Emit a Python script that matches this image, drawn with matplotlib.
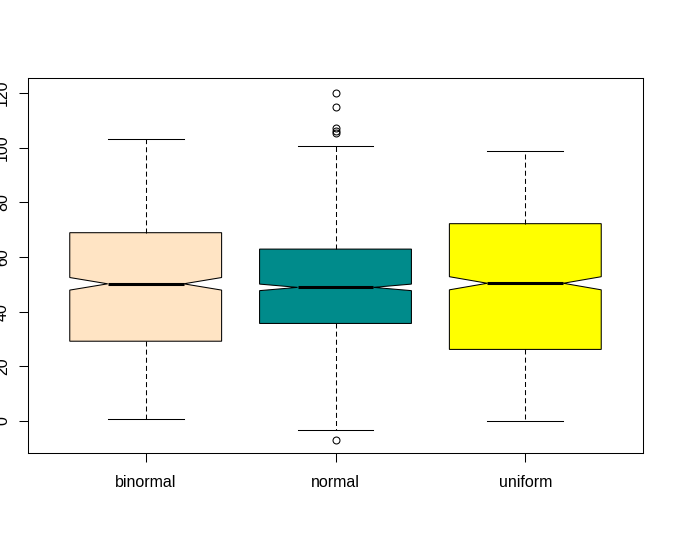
import numpy as np
import matplotlib
matplotlib.use('Agg')
import matplotlib.pyplot as plt

plt.rcParams['font.family'] = ['Liberation Sans', 'DejaVu Sans']

# values
categories = ['binormal', 'normal', 'uniform']
whislo = [0.6, -3.3, -0.1]
q1 = [29.2, 35.7, 26.2]
med = [50.2, 48.9, 50.4]
q3 = [68.9, 62.9, 72.2]
whishi = [103.1, 100.5, 98.7]
notch_lo = [47.9, 47.7, 48.0]
notch_hi = [52.5, 50.1, 52.8]
fliers = [[], [120.1, 115.0, 107.3, 106.2, 105.2, -7.1], []]
colors = ['bisque', 'darkcyan', 'yellow']
yticks = [0, 20, 40, 60, 80, 100, 120]

stats = []
for i, name in enumerate(categories):
    stats.append(dict(label=name, whislo=whislo[i], q1=q1[i], med=med[i],
                      q3=q3[i], whishi=whishi[i], cilo=notch_lo[i],
                      cihi=notch_hi[i], fliers=fliers[i]))

fig = plt.figure(figsize=(6.84, 5.52), dpi=100)
ax = fig.add_axes([28 / 684, 1 - 453 / 552, (643 - 28) / 684, (453 - 78) / 552])

lw = 0.75
bp = ax.bxp(stats, positions=[1, 2, 3], widths=0.8, patch_artist=True,
            shownotches=True,
            boxprops=dict(edgecolor='black', linewidth=lw),
            whiskerprops=dict(color='black', linewidth=lw, linestyle=(0, (4.8, 3.0))),
            capprops=dict(color='black', linewidth=lw),
            medianprops=dict(color='black', linewidth=2.2, solid_capstyle='butt'),
            flierprops=dict(marker='o', markerfacecolor='none', markeredgecolor='black',
                            markersize=5, markeredgewidth=lw, linestyle='none'))
for patch, c in zip(bp['boxes'], colors):
    patch.set_facecolor(c)

ax.set_xlim(0.38, 3.62)
ax.set_ylim(-11.7, 125.5)
ax.set_xticks([1, 2, 3])
ax.set_xticklabels(categories)
ax.set_yticks(yticks)
ax.set_yticklabels([str(v) for v in yticks], rotation=90, va='center')

for s in ax.spines.values():
    s.set_linewidth(lw)
ax.tick_params(axis='both', length=6.5, width=lw, labelsize=11.5, direction='out')
ax.tick_params(axis='x', pad=9.5)
ax.tick_params(axis='y', pad=6.5)

fig.savefig('out.png', dpi=100)
